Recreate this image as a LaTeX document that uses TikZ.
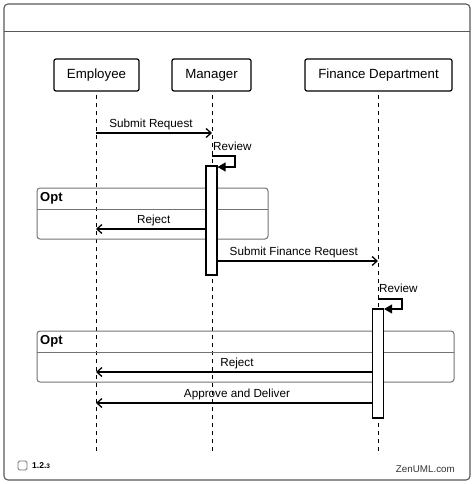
\documentclass[tikz,border=0pt]{standalone}
\usepackage{fontspec}
\setmainfont{Liberation Sans}
\usetikzlibrary{arrows.meta}
\begin{document}
\begin{tikzpicture}[x=1pt,y=-1pt,
  frame/.style={draw=black!65, line width=1.1pt, rounded corners=4pt},
  participant/.style={draw, line width=1.2pt, rounded corners=2pt, minimum height=32pt, inner sep=0pt, font=\fontsize{13.3}{15}\selectfont, fill=white},
  lifeline/.style={draw, line width=0.9pt, dash pattern=on 4pt off 4pt},
  act/.style={draw, line width=1.2pt, fill=white, minimum width=11pt, inner sep=0pt},
  msg/.style={draw, line width=1.3pt, -{Straight Barb[length=5pt,width=9pt,line width=1.3pt]}},
  selfmsg/.style={draw, line width=1.3pt, -{Triangle[length=8pt,width=9pt]}},
  lbl/.style={font=\fontsize{11.7}{13}\selectfont, inner sep=0pt},
  optbox/.style={draw=black!55, line width=1pt, rounded corners=3pt},
  optlbl/.style={font=\bfseries\fontsize{13}{15}\selectfont, anchor=west, inner sep=0pt}
]
\useasboundingbox (0,0) rectangle (474,484);
% frame
\draw[frame] (4,4) rectangle (470,480);
\coordinate (hl) at (4,32);
\coordinate (hr) at (470,32);
\draw[black!65, line width=1pt] (hl) -- (hr);

% participants
\node[participant, minimum width=85pt] (emp) at (96.5,75) {Employee};
\node[participant, minimum width=79pt] (man) at (211.5,75) {Manager};
\node[participant, minimum width=147pt] (fin) at (378.5,75) {Finance Department};

% lifeline ends
\coordinate (empEnd) at (96,452);
\coordinate (manEnd) at (212,452);
\coordinate (finEnd) at (378,452);
\coordinate (empTop) at (96,95);
\coordinate (manTop) at (212,95);
\coordinate (finTop) at (378,95);
\draw[lifeline] (empTop) -- (empEnd);
\draw[lifeline] (manTop) -- (manEnd);
\draw[lifeline] (finTop) -- (finEnd);

% opt boxes
\draw[optbox] (37,188) rectangle (268,239);
\coordinate (o1l) at (37,209);
\coordinate (o1r) at (268,209);
\draw[black!55, line width=1pt] (o1l) -- (o1r);
\node[optlbl] (opt1) at (40,198) {Opt};

\draw[optbox] (37,331) rectangle (454,382);
\coordinate (o2l) at (37,352);
\coordinate (o2r) at (454,352);
\draw[black!55, line width=1pt] (o2l) -- (o2r);
\node[optlbl] (opt2) at (40,341) {Opt};

% activations
\node[act, minimum height=109pt] (manAct) at (211.5,220.5) {};
\node[act, minimum height=109pt] (finAct) at (378,363.5) {};

% Submit Request
\coordinate (m1a) at (96,133);
\coordinate (m1b) at (212,133);
\draw[msg] (m1a) -- node[lbl, above=2.5pt, xshift=-3pt] {Submit Request} (m1b);

% Review 1
\coordinate (r1a) at (212,156);
\coordinate (r1b) at (235,156);
\coordinate (r1c) at (235,167);
\draw[selfmsg] (r1a) -- (r1b) -- (r1c) -- (manAct.north east |- r1c);
\node[lbl, anchor=west] (rev1) at (213,146) {Review};

% Reject 1
\coordinate (rj1) at (96,229);
\draw[msg] (manAct.west |- rj1) -- node[lbl, above=2.5pt, xshift=3pt] {Reject} (rj1);

% Submit Finance Request
\coordinate (sf) at (378,261);
\draw[msg] (manAct.east |- sf) -- node[lbl, above=2.5pt, xshift=-4pt] {Submit Finance Request} (sf);

% Review 2
\coordinate (r2a) at (378,299);
\coordinate (r2b) at (402,299);
\coordinate (r2c) at (402,309);
\draw[selfmsg] (r2a) -- (r2b) -- (r2c) -- (finAct.north east |- r2c);
\node[lbl, anchor=west] (rev2) at (379,288) {Review};

% Reject 2
\coordinate (rj2) at (96,372);
\draw[msg] (finAct.west |- rj2) -- node[lbl, above=2.5pt, xshift=3pt] {Reject} (rj2);

% Approve and Deliver
\coordinate (ad) at (96,403);
\draw[msg] (finAct.west |- ad) -- node[lbl, above=2.5pt, xshift=3pt] {Approve and Deliver} (ad);

% footer
\draw[black!55, line width=0.8pt, rounded corners=1.5pt] (18,461) rectangle (27,470);
\node[anchor=west, inner sep=0pt, font=\bfseries\fontsize{8.5}{10}\selectfont] (ver) at (32,466) {1.2.{\fontsize{6.5}{8}\selectfont 3}};
\node[anchor=east, inner sep=0pt, font=\fontsize{9.8}{11}\selectfont, text=black!80] (zen) at (455,469) {ZenUML.com};
\end{tikzpicture}
\end{document}
